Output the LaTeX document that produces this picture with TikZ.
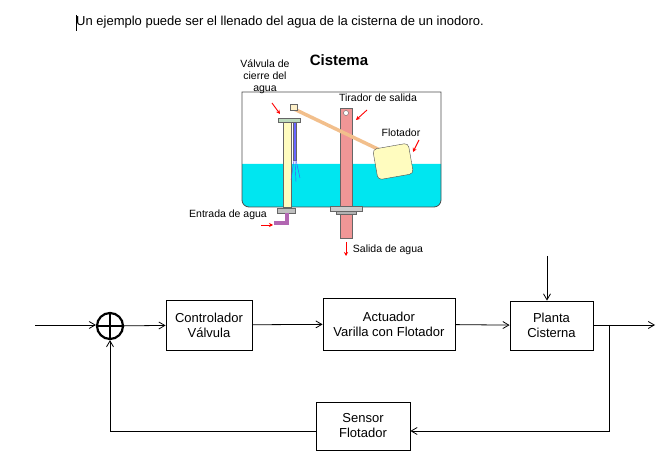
\documentclass[tikz,border=0pt]{standalone}
\usepackage{fontspec}
\setmainfont{Liberation Sans}
\usetikzlibrary{arrows.meta}
\definecolor{water}{RGB}{0,230,240}
\definecolor{pinkp}{RGB}{240,150,150}
\begin{document}
\begin{tikzpicture}[x=1pt,y=-1pt,
  blk/.style={draw,thick,align=center,font=\fontsize{13}{15}\selectfont,inner sep=0},
  arr/.style={-{Straight Barb[length=6pt,width=7pt]},thick},
  lab/.style={font=\fontsize{10.5}{12}\selectfont,align=center,inner sep=0},
  red/.style={draw=red,-{Stealth[length=4pt,width=4pt]},line width=0.9pt}]
\useasboundingbox (0,0) rectangle (670,470);
\node[anchor=west,font=\fontsize{13}{15}\selectfont,inner sep=0] (t) at (76,22) {Un ejemplo puede ser el llenado del agua de la cisterna de un inodoro.};
\draw (76,15) -- (76,31);
% cistern
\node[font=\bfseries\fontsize{15}{17}\selectfont] (cis) at (339,60) {Cistema};
\fill[water] (242,164) -- (242,200) arc[start angle=180,end angle=90,radius=7] -- (434,207) arc[start angle=90,end angle=0,radius=7] -- (441,164) -- cycle;
\draw[thick,black!70] (242,92) -- (242,200) arc[start angle=180,end angle=90,radius=7] -- (434,207) arc[start angle=90,end angle=0,radius=7] -- (441,92) -- cycle;
\filldraw[fill=pinkp,draw=black!60] (340,108) rectangle (352,238);
\filldraw[fill=white,draw=black!60] (346,113) circle (2.5);
\filldraw[fill=gray!40,draw=black!60] (330,206) rectangle (362,211);
\filldraw[fill=gray!60,draw=black!60] (336,211) rectangle (356,214);
\filldraw[fill=yellow!25,draw=black!60] (283,122) rectangle (291,207);
\filldraw[fill=blue!60,draw=black!60] (293,122) rectangle (296,160);
\draw[blue!70] (294,160) -- (291,180) (295,160) -- (296,182) (296,160) -- (300,178);
\filldraw[fill=green!30!gray!40,draw=black!60] (278,118) rectangle (300,122);
\filldraw[fill=gray!50,draw=black!60] (277,208) rectangle (295,213);
\draw[line width=4pt,violet!60] (287,213) -- (287,223) -- (274,223);
\draw[line width=3.5pt,brown!40!orange!50] (292,108) -- (384,152);
\filldraw[fill=yellow!50!orange!20,draw=black!60] (290,104) rectangle (297,110);
\begin{scope}[rotate around={10:(393,161)}]
\filldraw[fill=yellow!25,draw=black!70,rounded corners=4pt] (375,146) rectangle (411,177);
\end{scope}
\node[lab] (va) at (265,77) {Válvula de\\cierre del\\agua};
\node[lab] (ti) at (378,98) {Tirador de salida};
\node[lab] (fl) at (401,133) {Flotador};
\node[lab] (en) at (228,215) {Entrada de agua};
\node[lab] (sa) at (388,250) {Salida de agua};
\draw[red] (272,103) -- (280,114);
\draw[red] (367,110) -- (356,120);
\draw[red] (419,140) -- (413,152);
\draw[red] (261,225) -- (273,225);
\draw[red] (346,242) -- (346,256);
% block diagram
\coordinate (in) at (35,325);
\node[draw,line width=2.2pt,circle,minimum size=26pt,inner sep=0] (sum) at (110,326) {};
\draw[line width=2.2pt] (sum.north) -- (sum.south) (sum.west) -- (sum.east);
\node[blk,minimum width=86pt,minimum height=50pt] (c) at (209,325) {Controlador\\Válvula};
\node[blk,minimum width=132pt,minimum height=52pt] (a) at (389,324) {Actuador\\Varilla con Flotador};
\node[blk,minimum width=83pt,minimum height=49pt] (p) at (551.5,325.5) {Planta\\Cisterna};
\node[blk,minimum width=94pt,minimum height=48pt] (s) at (363,426) {Sensor\\Flotador};
\coordinate (out) at (655,325);
\coordinate (d) at (547,256);
\coordinate (fb) at (609,325);
\draw[arr] (in) -- (sum.west|-in);
\draw[arr] (sum) -- (c);
\draw[arr] (c) -- (a);
\draw[arr] (a) -- (p);
\draw[arr] (p.east|-out) -- (out);
\draw[arr] (d) -- (p.north-|d);
\draw[arr] (fb) |- (s.east|-0,431);
\draw[arr] (s.west|-0,431) -| (sum.south);
\end{tikzpicture}
\end{document}
